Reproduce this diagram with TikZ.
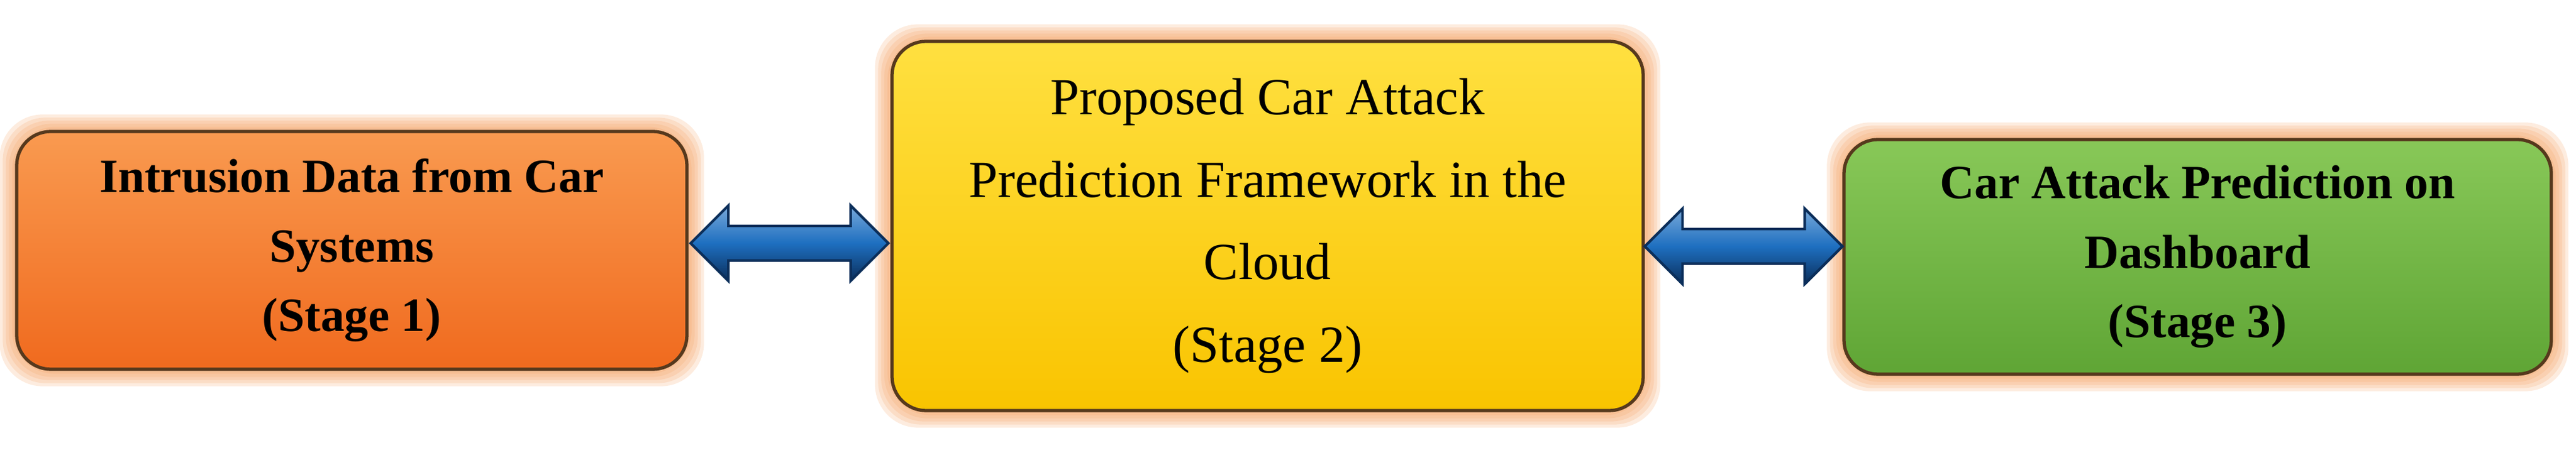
\documentclass[tikz,border=0pt]{standalone}
\usepackage{fontspec}
\setmainfont{Liberation Serif}
\usetikzlibrary{shapes.arrows,backgrounds}
\definecolor{orA}{HTML}{F99A50}\definecolor{orB}{HTML}{F06A1E}
\definecolor{yeA}{HTML}{FFE040}\definecolor{yeB}{HTML}{F9C400}
\definecolor{grA}{HTML}{88C858}\definecolor{grB}{HTML}{5FA535}
\definecolor{glow}{HTML}{F4A060}
\definecolor{arB}{HTML}{1E6FC0}\definecolor{arD}{HTML}{0B2E5A}
\tikzset{
 stage/.style={rounded corners=0.55cm, draw=black!55!brown, line width=1.5pt, align=center},
 glowbox/.style={fill=glow, opacity=0.2, rounded corners=0.7cm},
 dblarrow/.style={double arrow, double arrow head extend=0.33cm, minimum height=3.2cm, minimum width=1.2cm,
   inner xsep=0pt, inner ysep=0.26cm, top color=arB!60, bottom color=arD, middle color=arB, draw=arD, line width=1.2pt}
}
\begin{document}
\begin{tikzpicture}
\useasboundingbox (0,0) rectangle (41.70,7.45);
\node[stage, top color=orA, bottom color=orB, minimum width=10.85cm, minimum height=3.85cm,
  font=\fontsize{22}{32}\selectfont\bfseries] (s1) at (5.695,3.395)
  {Intrusion Data from Car\\Systems\\(Stage 1)};
\node[stage, top color=yeA, bottom color=yeB, minimum width=12.16cm, minimum height=5.98cm,
  font=\fontsize{24}{38}\selectfont] (s2) at (20.52,3.79)
  {Proposed Car Attack\\Prediction Framework in the\\Cloud\\(Stage 2)};
\node[stage, top color=grA, bottom color=grB, minimum width=11.45cm, minimum height=3.8cm,
  font=\fontsize{22}{32}\selectfont\bfseries] (s3) at (35.575,3.29)
  {Car Attack Prediction on\\Dashboard\\(Stage 3)};
\begin{scope}[on background layer]
\foreach \n in {s1,s2,s3}{
  \foreach \e in {0.05,0.1,0.15,0.2,0.25}{
    \fill[glowbox] ([shift={(-\e,-\e)}]\n.south west) rectangle ([shift={(\e,\e)}]\n.north east);
  }
}
\end{scope}
\path (s1.east) -- (s2.west) coordinate[midway] (m1);
\node[dblarrow] (a1) at (m1 |- 0,3.51) {};
\path (s2.east) -- (s3.west) coordinate[midway] (m2);
\node[dblarrow] (a2) at (m2 |- 0,3.46) {};
\end{tikzpicture}
\end{document}
